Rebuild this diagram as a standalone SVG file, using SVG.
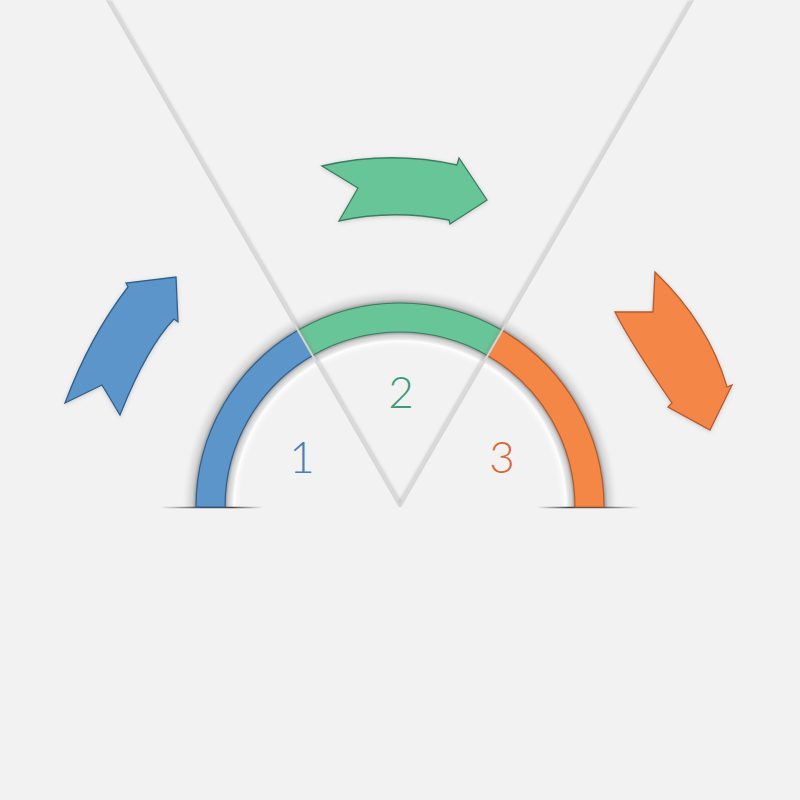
<svg xmlns="http://www.w3.org/2000/svg" width="800" height="800" viewBox="0 0 800 800">
<defs>
<style>
.seg{stroke-width:1.2}
.num{font-family:Lato,"Open Sans","DejaVu Sans",sans-serif;font-weight:300;font-size:44px;text-anchor:middle}
.vline{stroke:#d6d6d6;stroke-width:2;fill:none}
.vshadow{stroke:#8a8a8a;stroke-width:2;fill:none;opacity:0.5}
</style>
<radialGradient id="groove" gradientUnits="userSpaceOnUse" cx="400" cy="507" r="220">
<stop offset="0.72" stop-color="#f2f2f2" stop-opacity="0"/>
<stop offset="0.755" stop-color="#ffffff" stop-opacity="0.9"/>
<stop offset="0.78" stop-color="#bdbdbd" stop-opacity="0.6"/>
<stop offset="0.795" stop-color="#7a7a7a" stop-opacity="0.8"/>
<stop offset="0.927" stop-color="#7a7a7a" stop-opacity="0.8"/>
<stop offset="0.945" stop-color="#b0b0b0" stop-opacity="0.5"/>
<stop offset="0.975" stop-color="#e2e2e2" stop-opacity="0.4"/>
<stop offset="0.995" stop-color="#f2f2f2" stop-opacity="0"/>
</radialGradient>
<linearGradient id="baseL" x1="160" y1="0" x2="263" y2="0" gradientUnits="userSpaceOnUse">
<stop offset="0" stop-color="#333" stop-opacity="0"/>
<stop offset="0.4" stop-color="#333" stop-opacity="0.9"/>
<stop offset="0.7" stop-color="#333" stop-opacity="0.9"/>
<stop offset="1" stop-color="#333" stop-opacity="0"/>
</linearGradient>
<linearGradient id="baseR" x1="537" y1="0" x2="640" y2="0" gradientUnits="userSpaceOnUse">
<stop offset="0" stop-color="#333" stop-opacity="0"/>
<stop offset="0.3" stop-color="#333" stop-opacity="0.9"/>
<stop offset="0.6" stop-color="#333" stop-opacity="0.9"/>
<stop offset="1" stop-color="#333" stop-opacity="0"/>
</linearGradient>
<filter id="blur" x="-20%" y="-20%" width="140%" height="140%">
<feGaussianBlur stdDeviation="1.5"/>
</filter>
<filter id="ashadow" x="-20%" y="-20%" width="140%" height="140%">
<feDropShadow dx="0" dy="1" stdDeviation="2" flood-color="#9a9a9a" flood-opacity="0.45"/>
</filter>
<clipPath id="upper"><rect x="0" y="0" width="800" height="508"/></clipPath>
</defs>
<rect width="800" height="800" fill="#f2f2f2"/>

<g id="groove-shade" clip-path="url(#upper)">
<path d="M180,507 A220,220 0 0 1 620,507 L558,507 A158,158 0 0 0 242,507 Z" fill="url(#groove)"/>
</g>
<g id="base">
<line x1="160" y1="507.5" x2="263" y2="507.5" stroke="url(#baseL)" stroke-width="1.5"/>
<line x1="537" y1="507.5" x2="640" y2="507.5" stroke="url(#baseR)" stroke-width="1.5"/>
</g>

<g id="seg1">
<path class="seg" d="M196,507 A204,204 0 0 1 298,330.33 L312.5,355.45 A175,175 0 0 0 225,507 Z" fill="#5b95c9" stroke="#2f5f8c"/>
<text class="num" x="302" y="473" fill="#4a7fae">1</text>
</g>
<g id="seg2">
<path class="seg" d="M298,330.33 A204,204 0 0 1 502,330.33 L487.5,355.45 A175,175 0 0 0 312.5,355.45 Z" fill="#68c597" stroke="#3a7f60"/>
<text class="num" x="401" y="408" fill="#3e9a78">2</text>
</g>
<g id="seg3">
<path class="seg" d="M502,330.33 A204,204 0 0 1 604,507 L575,507 A175,175 0 0 0 487.5,355.45 Z" fill="#f48746" stroke="#b65a28"/>
<text class="num" x="502" y="473" fill="#d86a36">3</text>
</g>

<g id="connectors">
<g filter="url(#blur)">
<line class="vshadow" x1="109.5" y1="0" x2="401" y2="504"/>
<line class="vshadow" x1="690.5" y1="0" x2="399" y2="504"/>
</g>
<line class="vline" x1="107" y1="0" x2="400" y2="507"/>
<line class="vline" x1="693" y1="0" x2="400" y2="507"/>
</g>

<g id="arrows" filter="url(#ashadow)" stroke-width="1.3" stroke-linejoin="miter">
<path id="arrow-blue" d="M65,403 Q90,336 128,287 L126,283 L176,277 L178,322 L174,319 Q147,347 120,415 L102,385 Z" fill="#5b95c9" stroke="#2f5f8c"/>
<path id="arrow-green" d="M322,166 Q390,150 457,165 L459,158 L487,200 L450,224 L449,220 Q392,209 339,221 L358,188 Z" fill="#68c597" stroke="#3a7f60"/>
<path id="arrow-orange" d="M655,272 Q709,324 727,387 L732,385 L710,430 L668,407 L672,403 Q630,342 615,312 L653,312 Z" fill="#f48746" stroke="#b65a28"/>
</g>
</svg>
